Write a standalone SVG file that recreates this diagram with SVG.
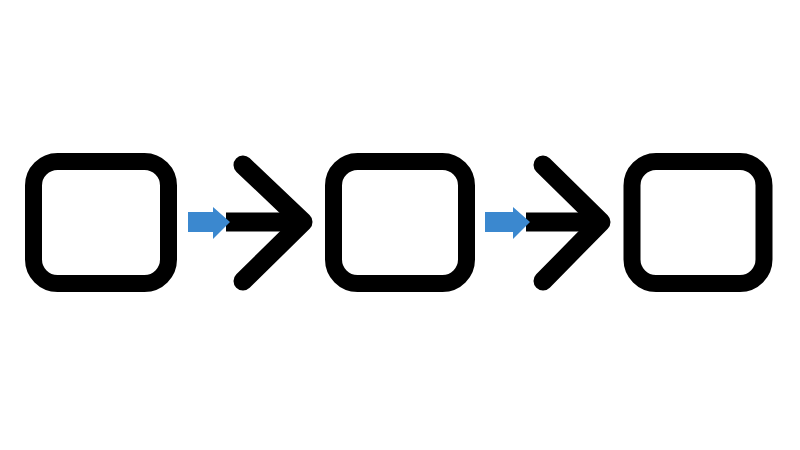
<svg xmlns="http://www.w3.org/2000/svg" width="800" height="450" viewBox="0 0 800 450">
  <style>
    .box { fill: none; stroke: #000; stroke-width: 17; }
    .shaft { stroke: #000; stroke-width: 19; fill: none; }
    .chev { fill: none; stroke: #000; stroke-width: 19; stroke-linecap: round; stroke-linejoin: round; }
    .blue { fill: #3b88cf; }
  </style>
  <rect width="800" height="450" fill="#fff"/>
  <g id="node1">
    <rect class="box" x="33.5" y="161.5" width="135" height="122" rx="24" ry="24"/>
  </g>
  <g id="node2">
    <rect class="box" x="333.5" y="161.5" width="133" height="122" rx="24" ry="24"/>
  </g>
  <g id="node3">
    <rect class="box" x="632" y="161.5" width="132" height="122" rx="24" ry="24"/>
  </g>
  <g id="connectors">
    <g id="arrow1">
      <line class="shaft" x1="226" y1="222" x2="300" y2="222"/>
      <polyline class="chev" points="243,165 303,222 243,281"/>
      <polygon class="blue" points="188,212 213,212 213,207 230,222 213,239 213,232 188,232"/>
    </g>
    <g id="arrow2">
      <line class="shaft" x1="526" y1="222" x2="598" y2="222"/>
      <polyline class="chev" points="543,165 601,222 543,281"/>
      <polygon class="blue" points="485,212 513,212 513,207 530,222 513,239 513,232 485,232"/>
    </g>
  </g>
</svg>
